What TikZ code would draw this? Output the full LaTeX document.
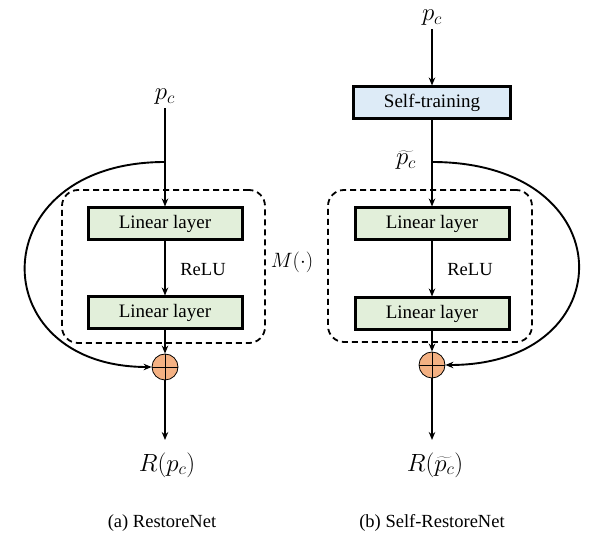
\documentclass[tikz,border=0pt]{standalone}
\usepackage{fontspec}
\setmainfont{Liberation Serif}
\usetikzlibrary{arrows.meta,positioning,shapes}

\definecolor{layergreen}{HTML}{E2EFDA}
\definecolor{trainblue}{HTML}{DDEBF7}
\definecolor{sumorange}{HTML}{F4B183}

\begin{document}
\begin{tikzpicture}[x=1pt,y=1pt,
 every node/.style={font=\fontsize{18.5}{20}\selectfont},
 layer/.style={rectangle,draw,line width=3pt,fill=layergreen,
   minimum width=154pt,minimum height=32pt,inner sep=0pt,
   font=\fontsize{19}{21}\selectfont},
 trainbox/.style={layer,fill=trainblue,minimum width=157pt},
 mbox/.style={rectangle,draw,dashed,line width=1.8pt,rounded corners=16pt,
   dash pattern=on 6pt off 4pt},
 sum/.style={circle,draw,line width=0.8pt,fill=sumorange,minimum size=26pt,
   inner sep=0pt,path picture={
     \draw[line width=0.8pt] (path picture bounding box.north) -- (path picture bounding box.south)
       (path picture bounding box.west) -- (path picture bounding box.east);}},
 var/.style={font=\fontsize{25}{27}\selectfont},
 flow/.style={line width=1.9pt,-{Stealth[length=8pt,width=6.5pt]}}]
  \useasboundingbox (0,0) rectangle (596,548);

  % (a) RestoreNet
  \node[var] (pa) at (165,451) {$p_c$};
  \node[mbox,minimum width=203pt,minimum height=153pt] (ma) at (163.5,281.5) {};
  \node[layer] (la1) at (165,324) {Linear layer};
  \node[layer] (la2) at (165,235) {Linear layer};
  \node at (203,278) {ReLU};
  \node[font=\fontsize{22}{24}\selectfont] at (292,286) {$M(\cdot)$};
  \node[sum] (sa) at (165,181) {};
  \node[var] (ra) at (167,83) {$R(p_c)$};
  \coordinate (ja) at (165,386);
  \coordinate (ea) at (165,108);

  \draw[flow] (pa) -- (la1);
  \draw[flow] (la1) -- (la2);
  \draw[flow] (la2) -- (sa);
  \draw[flow] (sa) -- (ea);
  \draw[flow] (ja) .. controls (-19,386) and (-19,181) .. (sa.west);

  % (b) Self-RestoreNet
  \node[var] (pb) at (432,530) {$p_c$};
  \node[trainbox] (st) at (432,445) {Self-training};
  \node[var] at (406,388) {$\widetilde{p_c}$};
  \node[mbox,minimum width=204pt,minimum height=152pt] (mb) at (430,282) {};
  \node[layer] (lb1) at (432,324) {Linear layer};
  \node[layer] (lb2) at (432,234) {Linear layer};
  \node at (470,278) {ReLU};
  \node[sum] (sb) at (432,183) {};
  \node[var] (rb) at (435,83) {$R(\widetilde{p_c})$};
  \coordinate (jb) at (432,386);
  \coordinate (eb) at (432,108);

  \draw[flow] (pb) -- (st);
  \draw[flow] (st) -- (lb1);
  \draw[flow] (lb1) -- (lb2);
  \draw[flow] (lb2) -- (sb);
  \draw[flow] (sb) -- (eb);
  \draw[flow] (jb) .. controls (625,386) and (625,183) .. (sb.east);

  % captions
  \node (capa) at (162,25) {(a) RestoreNet};
  \node (capb) at (432,25) {(b) Self-RestoreNet};
\end{tikzpicture}
\end{document}
